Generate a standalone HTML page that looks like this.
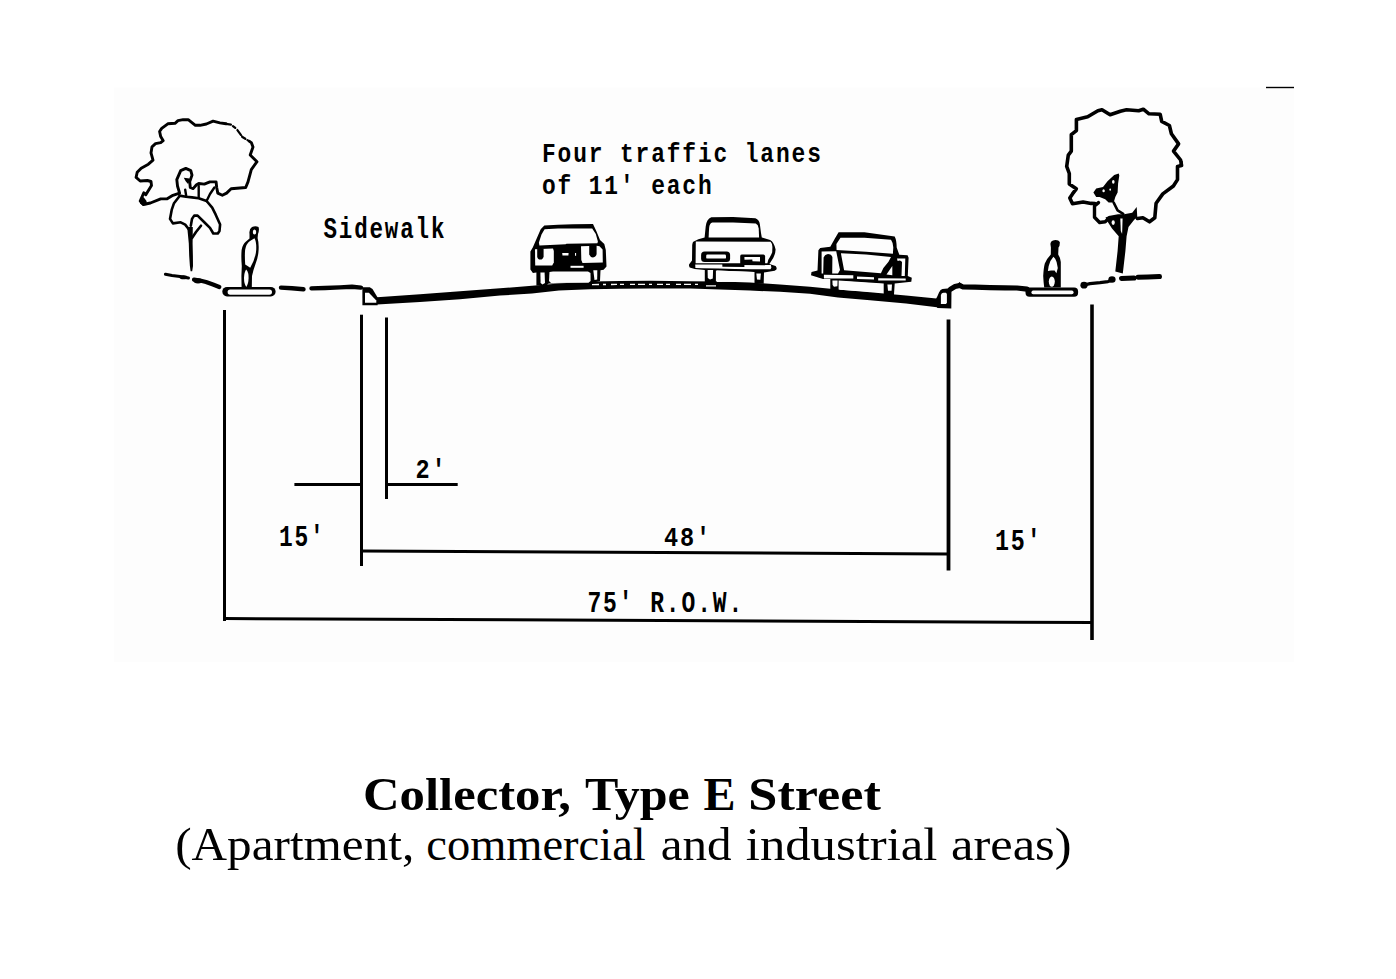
<!DOCTYPE html>
<html><head><meta charset="utf-8"><title>Collector, Type E Street</title>
<style>
html,body{margin:0;padding:0;background:#fff;width:1396px;height:979px;overflow:hidden}
svg{position:absolute;left:0;top:0;display:block}
.m{font-family:"Liberation Mono",monospace;font-weight:bold;fill:#000}
.s{font-family:"Liberation Serif",serif;fill:#000}
</style></head><body>
<svg width="1396" height="979" viewBox="0 0 1396 979">
<rect x="114" y="87.5" width="1180" height="574.5" fill="#fdfdfd"/>
<line x1="1266" y1="87.5" x2="1294" y2="87.5" stroke="#000" stroke-width="1.4"/>

<g id="dims" stroke="#000" stroke-linecap="butt" fill="none">
  <line x1="224.5" y1="310" x2="224.5" y2="621" stroke-width="3"/>
  <line x1="361.5" y1="314.7" x2="361.5" y2="566" stroke-width="3"/>
  <line x1="386.5" y1="317.5" x2="386.5" y2="499" stroke-width="3"/>
  <line x1="948.5" y1="319.5" x2="948.5" y2="570.5" stroke-width="3.8"/>
  <line x1="1092" y1="304.4" x2="1092" y2="640" stroke-width="3.6"/>
  <line x1="294.4" y1="484.5" x2="361.5" y2="484.5" stroke-width="3"/>
  <line x1="386.5" y1="484.5" x2="457.7" y2="484.5" stroke-width="3"/>
  <line x1="361.5" y1="551" x2="948.5" y2="554" stroke-width="3"/>
  <line x1="224.5" y1="618.5" x2="1092" y2="622.5" stroke-width="3"/>
</g>

<g id="ground" fill="none" stroke="#000" stroke-linecap="round" stroke-linejoin="round">
  <!-- left ground -->
  <path d="M165.5,274.3 L172,275.5 L180,276.5 L188.4,278" stroke-width="3.2"/>
  <path d="M194,279.6 L200,280.5 L206,282 L213,284.5 L219.3,287" stroke-width="4.2"/>
  
  <path d="M281,287.6 L292,288.2 L303.5,289.2" stroke-width="4.4"/>
  <path d="M311.5,288.4 L325,288 L340,287.4 L352,286.8 L361,287.6" stroke-width="4.4"/>
  <!-- left curb -->
  
  <!-- right curb -->
  
  <!-- right ground -->
  <path d="M950.5,289.2 L955,286.6 L959.6,285.4 L963,287 L975,287.2 L990,287.6 L1005,287.8 L1017,288 L1027,289.2" stroke-width="5.2"/>
  
  <path d="M1084,285 L1090,283.6 L1100,282.6 L1108,281.6 L1113,280" stroke-width="3.2"/>
  <path d="M1121.5,278.4 L1134,278" stroke-width="5"/>
  <path d="M1138,277.2 L1148,276.9 L1159.5,276.6" stroke-width="5"/>
</g>
<g fill="#000">
  <path d="M362.4,287.2 L369.8,287.2 L372.5,289 L377.6,297.6 L377.6,305.3 L362.4,305.3 Z"/>
  <rect x="222.3" y="286.9" width="53.3" height="9.5" rx="4.7"/>
  <rect x="1025.5" y="287.4" width="52.6" height="9.3" rx="4"/>
  <path d="M936,299 L937.5,296 L939,292.4 Q940.5,289.5 942.4,289 L950,288.2 L951.5,288.6 L951.3,308.6 L937.5,307.9 L936,306 Z"/>
  <path d="M956,286.5 L959.4,282 L962,284.5 L958,288 Z"/>
  <ellipse cx="1084" cy="285.2" rx="3.6" ry="3.4"/>
  <ellipse cx="1112" cy="279.5" rx="3.6" ry="3.2"/>
  <ellipse cx="198" cy="280.8" rx="4.5" ry="2.6"/>
  <ellipse cx="183.5" cy="277.2" rx="4" ry="2"/>
</g>
<g fill="#fdfdfd">
  <path d="M365,292.8 L368.9,292.8 L376.3,300.4 L376.3,302.7 L365,302.7 Z"/>
  <rect x="227.6" y="289.5" width="44.4" height="5.2" rx="2.6"/>
  <rect x="1031.4" y="290.6" width="42.2" height="3.6" rx="1.8"/>
  <path d="M940.9,295 Q941.5,292.8 943.5,292.8 L946,292.8 L946.9,294 L946.9,302.8 L946,304.1 L940.9,304.1 Z"/>
</g>
<!-- road -->
<path d="M377,297.2 L420,294.2 L460,291.3 L500,288.3 L532,285.8 L559,283.6 L590,281.5 L620,281 L650,280.8 L690,281.2 L720,281.6 L750,282.6 L780,284.5 L810,286.8 L838,289.6 L870,292.3 L906,295.4 L939,298.8
 L939,307.6 L906,303.6 L870,300.3 L838,297.5 L810,293.8 L780,291.8 L750,290.6 L720,289.4 L690,288.5 L650,288.4 L620,288.8 L590,289.3 L559,290.5 L532,293.4 L500,295.6 L460,299.2 L420,302 L377,304.4 Z" fill="#000"/>
<path d="M592,284.6 L620,284.4 L700,284.4" stroke="#fdfdfd" stroke-width="1.4" stroke-dasharray="7 4 3 5 6 3 4 6 5 3" fill="none"/>
<path d="M706,285.8 L716,285.9" stroke="#fdfdfd" stroke-width="1.2" fill="none"/>
<g id="treeL" fill="none" stroke="#000" stroke-linejoin="round" stroke-linecap="round">
  <path stroke-width="2.9" d="M143.3,204.5 L140.2,201 L143.8,192.8 L145.8,194.8 L151.5,185.6 L151,181.5 L147.4,180.5 L140.2,181 L136.1,177.4 L137.2,172.3 L141.2,168.2 L148.4,164.2 L153,160.1 L151,152.9 L152,146.8 L155.5,143.7 L160.7,142.7 L163.2,140.7 L160.7,136.6 L159.6,131.5 L161.7,128.4 L167.8,123.8 L175,123.3 L178,120.7 L183.1,119.7 L188.2,119.7 L195.4,125.3 L200,125.3 L206.4,124 L213.1,121.2 L219.9,122.9 L226,123.8 M249.5,141.4 L251.3,142.6 L253,147.1 L250.2,155 L257,161.7 L251.3,169.6 L248,181.9 L245.7,187.5 L231.1,188.7 L226.6,193.1 L222.3,195.3 L217.8,193.1 L216.7,187.5 L216.1,181.9 L209.9,181.9 L204.3,184.1 L198.7,183.5 L196.5,184.7 L193.1,188.6 L190.3,187.5 L189.7,181.9 L192,175.1 L190.8,170.6 L185.8,168.4 L180.7,170.6 L176.8,179.6 L177.5,186 L179.6,193.1 L172.9,195.3 L166.8,198.9 L160.7,198.9 L150.4,203 L143.3,204.5"/>
  <path stroke-width="2.2" stroke-dasharray="5 2.5 3 3 6 2 4 2.5" d="M226,123.8 L231.1,124.6 L236.7,129.1 L242.4,137 L249.5,141.4"/>
  <path stroke-width="2.4" d="M185.2,189.7 L186.3,196.5"/>
  <path stroke-width="2.4" d="M198.7,186 L198.7,197.8"/>
  <path stroke-width="2.4" d="M214.4,187.5 L210,194 L206.6,201"/>
  <path stroke-width="2.6" d="M179.6,195.6 L186,196.8 L192,197.4 L198.7,198.3 L206.6,201"/>
  <path stroke-width="2.6" d="M179.6,196 L174,203.2 L171.7,209.9 L170,218.9 L172.9,223.4 L180.7,222.3 L185.2,224.6 L188.6,229"/>
  <path stroke-width="2.6" d="M206.6,201 L212.2,207.7 L215.6,214.4 L220.1,224.6 L219.5,231 L217.8,233.5 L213.3,233.5 L210,227.9 L204.3,222.3 L197.6,215.6 L194.2,215.6 L192,218.9 L190.8,225.7"/>
  <path stroke-width="2.6" d="M192,238 L196,232 L201,225.7"/>
</g>
<g fill="#000">
  <path d="M140.5,200 L143.5,197 L146.5,201 L147,205 L143,205.6 L140,203.5 Z"/>
  <path d="M183.8,177.8 L189.6,178.4 L189.4,181.6 L188,184 L185.5,181 Z"/>
  <path d="M187.2,227 L192.8,227 L192.6,243.7 L192.9,256 L193,266 L192.2,271.2 L190.6,271.2 L189.9,266 L189.2,256 L188.8,243.5 Z"/>
</g>

<g id="treeR" fill="none" stroke="#000" stroke-linejoin="round" stroke-linecap="round">
  <path stroke-width="3.6" d="M1095,203.5 L1091.1,203.4 L1083.1,202 L1072.5,203.7 L1069.8,197.9 L1072.5,193.9 L1076.3,188.8 L1069.3,184 L1069.3,173.5 L1066.7,166.4 L1068.3,155.1 L1071.3,151.1 L1071.3,134.7 L1076.4,130.6 L1076.4,119.4 L1087.7,116.8 L1097.9,110.7 L1102,109.7 L1110.1,114.8 L1120.4,111.2 L1126.5,109.7 L1138.7,110.7 L1143.3,109.2 L1149,113.8 L1160.2,114.3 L1161.7,121.4 L1169.4,125.5 L1171.4,133.7 L1178.6,143.9 L1173.5,151.1 L1180.6,160 L1181.6,165.5 L1177.5,166.4 L1177.5,179.6 L1173.4,186 L1162.8,193.9 L1156.1,203.2 L1154.8,217.8 L1149.5,221.8 L1142.9,217.8 L1137.5,218.5"/>
  <path stroke-width="3.4" d="M1098.5,202.6 L1094.5,206 L1094.5,217.2 L1099.6,222.5 L1105.2,221.7 L1109.7,217.5"/>
  <path stroke-width="2.6" d="M1113.7,202.6 L1117.6,210.4 L1123.2,213.8"/>
</g>
<g fill="#000">
  <path d="M1181,160 L1182.8,161.5 L1182.8,166.6 L1178.5,167 Z"/>
  <path d="M1093.4,192.5 L1096.2,188.5 L1103,186.9 L1107.5,181.2 L1114.2,175.1 L1118.7,173.4 L1119.3,175.6 L1118.1,183.5 L1117.6,192.5 L1115.3,197 L1113.7,202.6 L1108.6,202.6 L1105.2,199.2 L1099.6,197 L1096.2,197 Z"/>
  <path d="M1105.5,217.5 L1110,215.8 L1118,214.2 L1124,214.3 L1132.2,212.7 L1136.7,207.1 L1137.3,217.6 L1134.4,219.6 L1128.5,227 L1126.6,236.3 L1125.4,251 L1122.8,273.6 L1115.3,271.5 L1117.6,251 L1118.7,236.3 L1112,228.4 L1107.5,221.5 Z"/>
</g>
<g fill="#fdfdfd">
  <ellipse cx="1113.2" cy="222.6" rx="1.6" ry="2.3"/>
  <path d="M1120.3,218.6 L1122.6,218.4 L1122.3,228 L1122.1,234 L1120.8,231 Z"/>
  <ellipse cx="1113.3" cy="181.8" rx="1.3" ry="1.9"/>
  <ellipse cx="1103.6" cy="190.7" rx="1.2" ry="1.5"/>
  <ellipse cx="1110.2" cy="189.6" rx="0.8" ry="1.2"/>
</g>
<!-- left person -->
<g id="personL">
  <path d="M249.5,234 Q248.8,229 252,227 Q255.5,225.3 258.5,227 Q259.6,230 258,234 L257.6,238 Q259,243 258.6,250 Q258.3,257 255.5,264 L253.5,270 L252,276 L251.8,288 L241.6,288 L241.4,276 L241.8,266 Q241,258 241.6,250 Q242.6,244 246,241.5 L249.5,238.5 Z" fill="#000"/>
  <ellipse cx="254.5" cy="232" rx="1.7" ry="2.6" fill="#fdfdfd"/>
  <path d="M254.5,238.3 Q256.6,242 256.2,250 Q255.7,258 250.2,267.8 Q247.5,266 245.2,264.5 Q244.6,256 245.1,250 Q246.2,243.5 250,241 Z" fill="#fdfdfd"/>
  <path d="M246.2,269.5 Q248.8,272 248.6,278 Q248.4,284 246.3,287 Q244,284 244,278 Q244.2,272 246.2,269.5 Z" fill="#fdfdfd"/>
</g>
<!-- right person -->
<g id="personR">
  <path d="M1050.4,244 Q1050.5,241 1054,240.2 Q1058.5,239.6 1059.8,242 Q1060,246 1058.5,247.6 L1058.2,254.5 Q1060.6,258 1060.8,262 L1060.8,287.6 L1044.2,287.6 Q1043.5,282 1043.2,276 Q1043.6,268 1044.8,263.5 Q1046.5,259 1050.8,254.5 L1050.9,247.5 Z" fill="#000"/>
  <path d="M1053.4,256.8 Q1055.4,258 1056.6,262 L1057.8,268 L1056.4,273.2 L1054.6,270.6 L1051,270.4 L1047.9,271 Q1048.4,265.5 1050.4,261 Z" fill="#fdfdfd"/>
  <ellipse cx="1051.8" cy="281.6" rx="3" ry="5.2" fill="#fdfdfd"/>
</g>
<!-- car 1 (front view) -->
<g id="car1">
  <path fill="#000" d="M544.3,225.6 L558,224.8 L573,224.3 L593,223.9 L596.5,231.5 L600,240 L604.3,244 L605.8,250 L606.5,266.5 L603.6,269.8 L600.5,270.2 L600,281 L590.8,283.2 L548.6,283.6 L546.4,285.6 L536.4,285.6 L536.4,272.5 L532.9,272.9 L530.4,269.5 L530.4,251.5 L532.9,247.2 L535.7,240.7 L540.7,229.3 Z"/>
  <g fill="#fdfdfd">
    <path d="M544.6,229.2 L558,228.6 L592.2,228.5 L595.8,234 L597.9,241.6 L597.4,243.3 L566.5,243.7 L565.6,244.3 L539.4,245.4 L538.9,242.5 L541.5,234.5 Z"/>
    <path d="M535,249.3 L553,248.6 L553.8,251 L553.8,262.5 L552.2,265.6 L535.2,265.6 Z"/>
    <path d="M581,246.2 L589.2,246 L589.2,254.5 Q590.5,257.5 593,257.4 Q596.2,257 596.6,254 L596.6,245.8 L599.5,246.2 L602.6,249.5 L602.8,262.6 L582.5,263 L581.3,260 Z"/>
    <path d="M549.5,272 L553,271.4 L588,271.6 L590.5,273 L590.6,281 L588.5,282.8 L551,283 L549,281 Z"/>
    <path d="M540.4,272.4 L544.6,272.4 L545,283 L542.5,284.5 L540.6,283 Z"/>
    <path d="M593.3,270.2 L597.3,270.2 L597.2,279.5 L594.5,280 Z"/>
    <path d="M562.2,253 L568.6,253 L568.4,255.6 L562.5,255.6 Z"/>
    <path d="M575,253 L576.1,253 L576.1,255.7 L575,255.7 Z"/>
    <path d="M570.5,265.8 L583.6,265.8 L583.6,267.8 L570.5,267.8 Z"/>
  </g>
  <path fill="#000" d="M537.2,248.4 L543.6,248.4 L543.6,256.5 Q543,259.6 540.4,259.6 Q537.4,259.6 537.2,256.5 Z"/>
</g>
<!-- car 2 (front view, middle) -->
<g id="car2">
  <path fill="#000" d="M711.3,217.3 L733,217 L755.4,218.3 Q759.3,219.6 759.9,224.5 L761,233 L761.8,237.4 L770.1,240 Q774,242 775.6,249.5 Q775.4,255.5 771,261.5 L769.4,264 L775.6,265.9 Q777.2,268 776.4,269.6 L774.7,270.8 L764,272.6 L763.7,283.8 L754.5,283.8 L754.5,272 L715.9,270.6 L715.9,281.9 L704.8,281.9 L704.8,270 L694.7,269 L689.7,267.6 Q688.6,265.5 689.2,264.3 L692,260.6 L692.2,245 Q692.6,242 693.3,241.7 L698.4,239.3 L704.6,237.4 L705.7,226.6 Q706.5,219 711.3,217.3 Z"/>
  <g fill="#fdfdfd">
    <path d="M712.4,222.6 L733,222.4 L755.8,223.4 Q758.3,224.6 758.7,228.4 L759.1,237.5 L708.6,237.6 L709.1,228 Q709.5,223.3 712.4,222.6 Z"/>
    <path d="M695.8,241.6 L770.6,241.8 Q772.3,243.5 772.4,247 L772.2,252.3 Q770.5,256.5 768.3,259.7 L767.4,263.3 L695.6,263.3 Z"/>
    <path d="M695.2,264.6 L722.3,264.4 L722.4,266.8 L744.4,267 L744.4,264.8 L770.8,265 L771.4,267.6 L770.5,269.2 L752,269.3 L735,268.9 L718,268.4 L702,268.3 L695.4,268 Z"/>
    <path d="M717,270.6 L754,272 L754,281.8 L717,281.9 Z"/>
    <path d="M707.6,269.9 L713.1,269.9 L712.8,278.5 L710,279.5 L707.8,278 Z"/>
    <path d="M756.3,273.4 L760.9,273.4 L760.3,279.8 L757,279.6 Z"/>
  </g>
  <rect x="701.1" y="251.4" width="29" height="10.6" rx="3.5" fill="#000"/>
  <rect x="706.2" y="254.6" width="19.8" height="4" rx="1.2" fill="#fdfdfd"/>
  <path fill="#000" d="M740.2,256 Q740.4,254.6 742,254.6 L763.5,254.6 Q765.1,254.8 765.1,256.5 L765.1,265.2 L741,265 Q740.2,264.8 740.2,263.5 Z"/>
  <path fill="#fdfdfd" d="M744.4,257 L760,256.9 L760,261.4 L752.5,261.3 L752.3,259.6 L744.5,259.8 Z"/>
</g>
<!-- car 3 (rear view) -->
<g id="car3">
  <path fill="#000" d="M838.6,232.2 L864.4,232.2 L894.7,236.4 Q896.6,240 896.7,247.6 L899.3,254.8 L907.6,255.3 L908.6,257.7 L907.8,276 L911.8,277.8 L911.3,281.8 L894.7,283.4 L893.8,297.4 L883.7,297.4 L883.7,283.5 L838.6,280.6 L838.6,290.2 L830.3,290.2 L830.3,279 L823,279 L811,275.2 L811.5,272 L817.5,270.6 L818.4,250.3 L820.2,248 L830.3,246.7 L834.9,238.4 Z"/>
  <g fill="#fdfdfd">
    <path d="M840.5,237.8 L864.4,237.7 L891,239.8 Q893.3,243 893.3,247.6 L892.9,253.8 L866,251.8 L836.6,249.9 L836.4,244 Z"/>
    <path d="M840.9,253.3 L866,254.6 L891,256.9 L888.5,261.8 L883.4,268 L880.9,273.3 L844.1,270.3 Z"/>
    <path d="M821.6,251.5 L836.2,251.3 L840,270 L838,273.4 L832.2,273.4 L832.4,257 Q831.4,254 828,253.9 Q824.8,254.2 823.6,257.5 L823.2,273.4 L821.6,273.4 Z"/>
    <path d="M897,258.6 L905.3,258.6 L904.8,276.1 L901.5,276 L902,262 Q900.7,259.6 897.6,261 Z"/>
    <path d="M886.5,274.6 L892.3,266 L892.3,275.3 Z"/>
    <path d="M823.9,274.8 L853.3,275.2 L853.3,278.6 L823.9,278.4 Z"/>
    <path d="M857,276.4 L874,277.2 L874,279.6 L857,279 Z"/>
    <path d="M878.2,278.2 L905.7,278.6 L905.7,280.6 L878.2,280.4 Z"/>
    <path d="M839.5,281 L882.8,284 L882.8,292.6 L839.5,289.8 Z"/>
    <path d="M832.4,280.4 L837.6,280.4 L837.4,286.2 L834,286.8 L832.6,285 Z"/>
    <path d="M887.4,284.6 L892,284.6 L891.6,290.8 L888,290.8 Z"/>
  </g>
</g>
<g id="text">
  <text class="m" font-size="26" transform="translate(541.94,162.3) scale(0.8800,1.08)" letter-spacing="2.127">Four traffic lanes</text>
  <text class="m" font-size="26" transform="translate(541.94,193.6) scale(0.8800,1.08)" letter-spacing="2.127">of 11' each</text>
  <text class="m" font-size="26" transform="translate(323.42,237.5) scale(0.8668,1.12)" letter-spacing="2.127">Sidewalk</text>
  <text class="m" font-size="26" transform="translate(415.46,477.5) scale(0.9064,1.05)" letter-spacing="2.127">2'</text>
  <text class="m" font-size="26" transform="translate(278.94,545.8) scale(0.8800,1.1)" letter-spacing="2.127">15'</text>
  <text class="m" font-size="26" transform="translate(663.96,546.0) scale(0.9064,1.05)" letter-spacing="2.127">48'</text>
  <text class="m" font-size="26" transform="translate(994.95,549.8) scale(0.8976,1.1)" letter-spacing="2.127">15'</text>
  <text class="m" font-size="26" transform="translate(587.44,611.6) scale(0.8844,1.1)" letter-spacing="2.127">75' R.O.W.</text>
  <text class="s" x="362.99" y="809.5" font-size="47" font-weight="bold" textLength="208.02" lengthAdjust="spacingAndGlyphs">Collector,</text>
  <text class="s" x="585.01" y="809.5" font-size="47" font-weight="bold" textLength="104.67" lengthAdjust="spacingAndGlyphs">Type</text>
  <text class="s" x="703.60" y="809.5" font-size="47" font-weight="bold" textLength="32.10" lengthAdjust="spacingAndGlyphs">E</text>
  <text class="s" x="748.33" y="809.5" font-size="47" font-weight="bold" textLength="132.67" lengthAdjust="spacingAndGlyphs">Street</text>
  <text class="s" x="175.18" y="859.8" font-size="47" textLength="239.05" lengthAdjust="spacingAndGlyphs">(Apartment,</text>
  <text class="s" x="426.31" y="859.8" font-size="47" textLength="219.38" lengthAdjust="spacingAndGlyphs">commercial</text>
  <text class="s" x="660.75" y="859.8" font-size="47" textLength="70.84" lengthAdjust="spacingAndGlyphs">and</text>
  <text class="s" x="745.80" y="859.8" font-size="47" textLength="191.59" lengthAdjust="spacingAndGlyphs">industrial</text>
  <text class="s" x="950.99" y="859.8" font-size="47" textLength="120.64" lengthAdjust="spacingAndGlyphs">areas)</text>
</g>
</svg>
</body></html>
